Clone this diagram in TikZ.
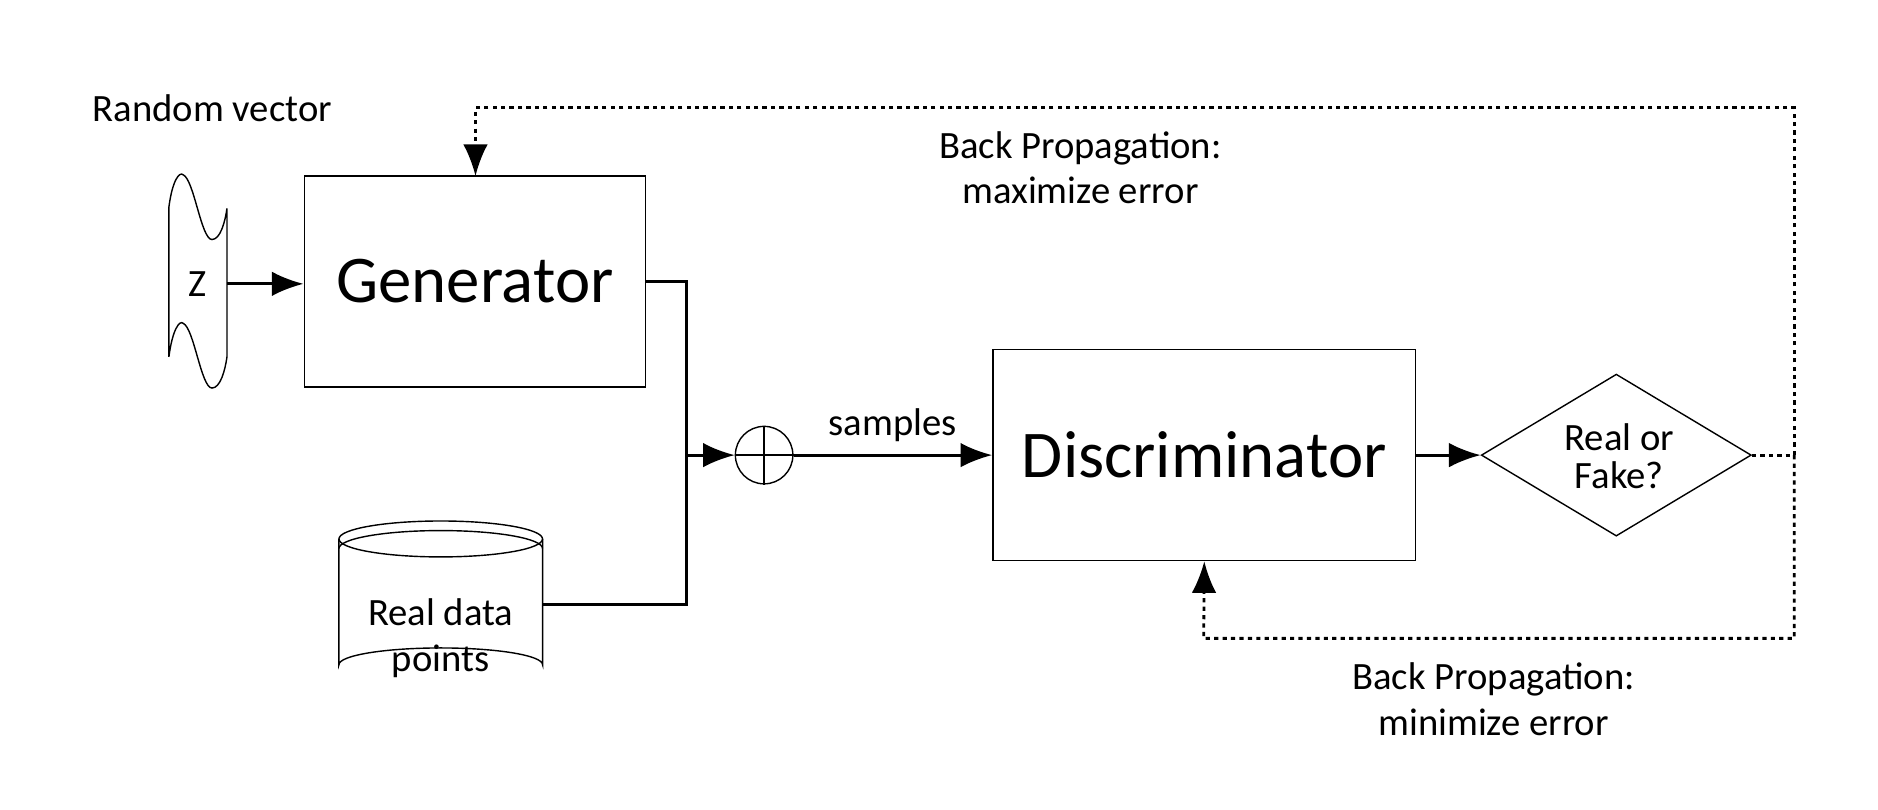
\documentclass[tikz,border=0pt]{standalone}
\usepackage{fontspec}
\setmainfont{Carlito}
\usetikzlibrary{shapes.geometric,arrows.meta}
\begin{document}
\begin{tikzpicture}[x=0.01198cm, y=-0.01198cm,
    lbl/.style={font=\fontsize{11}{13}\selectfont, align=center},
    block/.style={draw, thin, inner sep=0pt, font=\fontsize{19}{22}\selectfont},
    flow/.style={thick, -{Latex[length=9pt,width=7pt]}},
    back/.style={thick, dash pattern=on 1.2pt off 1.2pt, -{Latex[length=9pt,width=7pt]}}]
    \useasboundingbox (0,0) rectangle (1568,676);
    \node[lbl, anchor=west] (rv) at (67,90) {Random vector};
    % random vector tape
    \draw[thin] (141,173) .. controls (144,150) and (150,143) .. (153,146)
        .. controls (162,150) and (168,200) .. (177,200)
        .. controls (184,200) and (188,185) .. (189.5,174) -- (189.5,298)
        .. controls (188,309) and (184,324) .. (177,324)
        .. controls (168,324) and (162,274) .. (153,270)
        .. controls (150,267) and (144,275) .. (141,298) -- cycle;
    \node[lbl] (z) at (165,237) {Z};
    \coordinate (zr) at (189.5,237);
    \node[block, minimum width=3.414cm, minimum height=2.108cm] (gen) at (396.5,235) {Generator};
    % real data cylinder
    \draw[thin] (283,450) -- (283,555) arc[start angle=180, end angle=360, x radius=85, y radius=14]
        -- (453,450);
    \draw[thin] (368,450) ellipse[x radius=85, y radius=15];
    \draw[thin] (283,458) arc[start angle=180, end angle=360, x radius=85, y radius=15];
    \node[lbl] (data) at (368,533) {Real data\\points};
    \coordinate (data-e) at (453,505);
    % sum
    \node[draw, thin, circle, inner sep=0pt, minimum size=0.575cm] (sum) at (638,380) {};
    \draw[thin] (sum.north) -- (sum.south) (sum.west) -- (sum.east);
    \coordinate (j) at (573,380);
    % discriminator
    \node[block, minimum width=4.229cm, minimum height=2.108cm] (dis) at (1005.5,380) {Discriminator};
    \node[draw, thin, diamond, aspect=1.67, minimum width=2.7cm, minimum height=1.62cm,
        inner sep=0pt] (dec) at (1349.5,380) {};
    \node[lbl] (dect) at (1352,381) {Real or\\[-2pt]Fake?};
    \coordinate (fb) at (1498,380);
    % connectors
    \draw[flow] (zr) -- (gen.west |- zr);
    \draw[thick] (gen.east) -| (j);
    \draw[thick] (data-e) -| (j);
    \draw[flow] (j) -- (sum);
    \draw[flow] (sum) -- node[lbl, above] {samples} (dis.west);
    \draw[flow] (dis.east) -- (dec);
    \draw[back] (dec.east) -- (fb) |- (1000,90) -| (397,147);
    \draw[back] (fb) |- (1005,533) -- (dis.south);
    \node[lbl] (bpmax) at (902,140) {Back Propagation:\\maximize error};
    \node[lbl] (bpmin) at (1247,584) {Back Propagation:\\minimize error};
\end{tikzpicture}
\end{document}
